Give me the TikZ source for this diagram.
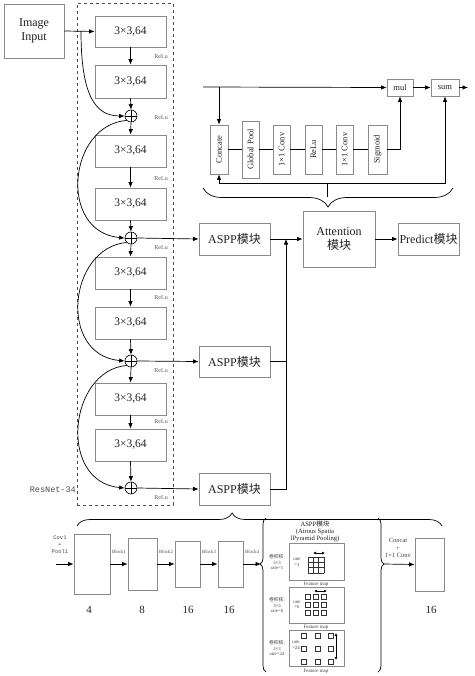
\documentclass[tikz,border=0pt]{standalone}
\usepackage{fontspec}
\usepackage{graphicx}
\setmainfont{Liberation Serif}
\newfontfamily\cjk{Noto Sans CJK SC}
\newfontfamily\monof{Liberation Mono}
\usetikzlibrary{arrows.meta,decorations.pathreplacing,calc}
\definecolor{boxc}{HTML}{8A8A8A}
\definecolor{txt}{HTML}{222222}
\newcommand{\fs}[1]{\fontsize{#1}{#1}\selectfont}
\newcommand{\fsb}[2]{\fontsize{#1}{#2}\selectfont}
\begin{document}
\begin{tikzpicture}[x=1pt,y=-1pt,
  box/.style={draw=boxc, line width=0.8pt, fill=white, inner sep=0pt, text=txt},
  conv/.style={box, minimum width=71pt, minimum height=32pt, font=\fs{11.5}},
  bigbox/.style={box, font=\fsb{12}{14.5}, align=center},
  addc/.style={draw=black, circle, minimum size=12pt, inner sep=0pt, line width=0.6pt, fill=white,
    path picture={\draw[black, line width=0.6pt] (path picture bounding box.north) -- (path picture bounding box.south)
      (path picture bounding box.west) -- (path picture bounding box.east);}},
  arr/.style={-{Latex[length=5.5pt,width=4.5pt]}, line width=0.7pt},
  ln/.style={line width=0.7pt},
  relu/.style={font=\fs{6}, text=black!65, anchor=east, inner sep=0pt},
  attb/.style={box, minimum width=17pt, minimum height=49pt, font=\fs{8.5}},
  small/.style={box, minimum width=26pt, minimum height=17pt, font=\fs{8.5}},
  blk/.style={box},
  tiny/.style={font=\fs{4.8}, text=black!70, inner sep=0pt, align=center},
  num/.style={font=\fs{11}, text=txt, inner sep=0pt},
  panel/.style={draw=boxc, line width=0.6pt},
  sq/.style={draw=black!80, line width=0.5pt},
  dbl/.style={{Latex[length=3pt,width=3pt]}-{Latex[length=3pt,width=3pt]}, line width=0.6pt},
  brc/.style={decorate, line width=0.7pt}
]
\useasboundingbox (0,0) rectangle (474,676);

% ---------- ResNet column ----------
\node[draw=black!70, dashed, line width=0.8pt, minimum width=96pt, minimum height=502pt, inner sep=0pt] (res) at (125,254) {};
\node[font=\monof\fs{8.5}, text=black!70, anchor=east, inner sep=0pt] (resl) at (76,490) {ResNet-34};

\node[bigbox, minimum width=60pt, minimum height=54pt] (img) at (34,31) {Image\\Input};

\node[conv, minimum height=31pt] (b1) at (130.5,31.5) {3×3,64};
\node[conv, minimum height=33pt] (b2) at (130.5,81.5) {3×3,64};
\node[addc] (c1) at (131,116) {};
\node[conv] (b3) at (130.5,151) {3×3,64};
\node[conv] (b4) at (130.5,204) {3×3,64};
\node[addc] (c2) at (131,238) {};
\node[conv] (b5) at (130.5,273) {3×3,64};
\node[conv] (b6) at (130.5,323) {3×3,64};
\node[addc] (c3) at (131,361) {};
\node[conv] (b7) at (130.5,399) {3×3,64};
\node[conv] (b8) at (130.5,445) {3×3,64};
\node[addc] (c4) at (131,488) {};

\foreach \y [count=\i] in {57,118,179,248,298,371,422,498}
  \node[relu] (r\i) at (168,\y) {ReLu};

\coordinate (j1) at (81,31);
\draw[arr] (img.east) -- (b1.west);
\draw[arr] (j1) .. controls (81,95) and (95,116) .. (c1.west);
\draw[arr] (b1.south) -- (b2.north);
\draw[arr] (b2.south) -- (c1.north);
\draw[arr] (c1.south) -- (b3.north);
\draw[arr] (b3.south) -- (b4.north);
\draw[arr] (b4.south) -- (c2.north);
\draw[arr] (c2.south) -- (b5.north);
\draw[arr] (b5.south) -- (b6.north);
\draw[arr] (b6.south) -- (c3.north);
\draw[arr] (c3.south) -- (b7.north);
\draw[arr] (b7.south) -- (b8.north);
\draw[arr] (b8.south) -- (c4.north);
\draw[arr] (c1.south west) .. controls (68,125) and (58,232) .. (c2.west);
\draw[arr] (c2.south west) .. controls (68,248) and (58,355) .. (c3.west);
\draw[arr] (c3.south west) .. controls (68,371) and (58,482) .. (c4.west);

% ---------- ASPP / attention / predict ----------
\node[bigbox, minimum width=71pt, minimum height=32pt] (a1) at (234.5,239) {ASPP{\cjk 模块}};
\node[bigbox, minimum width=71pt, minimum height=31pt] (a2) at (234.5,361.5) {ASPP{\cjk 模块}};
\node[bigbox, minimum width=71pt, minimum height=32pt] (a3) at (234.5,489) {ASPP{\cjk 模块}};
\node[bigbox, minimum width=72pt, minimum height=56pt] (att) at (339,239) {Attention\\{\cjk 模块}};
\node[bigbox, minimum width=61pt, minimum height=32pt] (pred) at (428.5,239) {Predict{\cjk 模块}};

\draw[arr] (c2.east) -- (a1.west);
\draw[arr] (c3.east) -- (a2.west);
\draw[arr] (c4.east) -- (a3.west);
\coordinate (m1) at (286,239);
\draw[arr] (a3.east) -| (m1);
\draw[ln] (a2.east) -- (a2.east -| m1);
\draw[arr] (a1.east) -- (att.west);
\draw[arr] (att.east) -- (pred.west);

% ---------- attention detail ----------
\coordinate (tin) at (203,87);
\coordinate (tout) at (468,87.5);
\node[small] (mul) at (400,87.5) {mul};
\node[small, minimum width=28pt] (sum) at (445,87.5) {sum};
\node[attb, minimum width=18pt] (cat) at (219,149.5) {\rotatebox{90}{Concate}};
\node[attb, minimum height=57pt] (gp) at (250.5,149.5) {\rotatebox{90}{Global Pool}};
\node[attb] (cv1) at (281.5,149.5) {\rotatebox{90}{1×1 Conv}};
\node[attb] (rl) at (313.5,149.5) {\rotatebox{90}{ReLu}};
\node[attb] (cv2) at (344.5,149.5) {\rotatebox{90}{1×1 Conv}};
\node[attb, minimum width=19pt] (sg) at (377.5,149.5) {\rotatebox{90}{Sigmoid}};

\draw[arr] (tin) -- (mul.west);
\draw[arr] (mul.east) -- (sum.west);
\draw[arr] (sum.east) -- (tout);
\draw[arr] (tin -| cat) -- (cat.north);
\draw[ln] (cat.east) -- (gp.west);
\draw[ln] (gp.east) -- (cv1.west);
\draw[ln] (cv1.east) -- (rl.west);
\draw[ln] (rl.east) -- (cv2.west);
\draw[ln] (cv2.east) -- (sg.west);
\draw[arr] (sg.east) -| (mul.south);
\coordinate (bj) at (327,183);
\coordinate (bt) at (327,197.5);
\draw[arr] (bj) -| (cat.south);
\draw[arr] (bj) -| (sum.south);
\draw[ln] (bj) -- (bt);
\draw[brc, decoration={brace, mirror, amplitude=19pt}] (203,188) -- (453,188);

% ---------- bottom pipeline ----------
\draw[brc, decoration={brace, amplitude=13pt, aspect=0.425}] (77,526) -- (442,526);

\node[font=\monof\fs{5.5}, text=black!70, align=center, inner sep=0pt] (cp) at (60,545) {Cov1\\[1.5pt]+\\[1.5pt]Pool1};
\coordinate (ain) at (56,564);
\node[blk, minimum width=36pt, minimum height=60pt] (k1) at (92,564) {};
\node[blk, minimum width=29pt, minimum height=52pt] (k2) at (142.5,564) {};
\node[blk, minimum width=25pt, minimum height=46pt] (k3) at (187.5,564) {};
\node[blk, minimum width=25pt, minimum height=46pt] (k4) at (230.5,564) {};
\coordinate (lt) at (261,564);

\draw[arr] (ain) -- (k1.west);
\draw[arr] (k1.east) -- (k2.west);
\draw[arr] (k2.east) -- (k3.west);
\draw[arr] (k3.east) -- (k4.west);
\draw[arr] (k4.east) -- (lt);
\node[tiny] (l1) at (119,552) {Block1};
\node[tiny] (l2) at (166,552) {Block2};
\node[tiny] (l3) at (209,552) {Block3};
\node[tiny] (l4) at (252,552) {Block4};

\node[num] (n1) at (89,610) {4};
\node[num] (n2) at (142,610) {8};
\node[num] (n3) at (188,610) {16};
\node[num] (n4) at (229,610) {16};

% ASPP module braces
\draw[brc, decoration={brace, amplitude=6pt, aspect=0.70}] (266,672) -- (266,518);
\draw[brc, decoration={brace, amplitude=6pt, aspect=0.30}] (378,518) -- (378,672);
\node[font=\fs{6.6}, text=txt, align=center, inner sep=0pt] (at) at (315,531.5) {ASPP{\cjk 模块}\\[0.5pt](Atrous Spatia\\[0.5pt]lPyramid Pooling)};

% panels
\draw[panel] (289,543) rectangle (344,580);
\draw[panel] (289,587) rectangle (344,623);
\draw[panel] (289,630) rectangle (344,666);
\foreach \y [count=\i] in {584,627,671}
  \node[font=\fs{5}, text=black!75, inner sep=0pt] (fm\i) at (316,\y) {Feature map};
\foreach \y/\r [count=\i] in {562/1,605/6,648/24}
  \node[font=\fs{4.8}, text=black!75, align=center, inner sep=0pt] (kl\i) at (277,\y) {{\cjk 卷积核}:\\[0.5pt]3×3\\[0.5pt]rate=\r};
\node[font=\fs{4.8}, text=black!75, align=center, inner sep=0pt] (ra1) at (297,562) {rate\\[0.5pt]=1};
\node[font=\fs{4.8}, text=black!75, align=center, inner sep=0pt] (ra2) at (297,605) {rate\\[0.5pt]=6};
\node[font=\fs{4.8}, text=black!75, align=center, inner sep=0pt] (ra3) at (296,645) {rate\\[0.5pt]=24};

% panel 1 grid
\foreach \k in {0,1,2,3} {
  \draw[sq] ({308+16/3*\k},557) -- ({308+16/3*\k},573);
  \draw[sq] (308,{557+16/3*\k}) -- (324,{557+16/3*\k});
}
\draw[dbl] (313,553) -- (325,553);
% panel 2 squares
\foreach \i in {0,1,2} \foreach \j in {0,1,2}
  \draw[sq] ({305+8*\i},{594+8*\j}) rectangle ++(5.5,5.5);
\draw[dbl] (314,591) -- (327,591);
% panel 3 squares
\foreach \xx in {301,315,328} \foreach \yy in {633,646,659}
  \draw[sq] (\xx,\yy) rectangle ++(5,5);
\draw[dbl] (336,633) -- (336,660);

% output
\node[font=\fs{6.5}, text=black!75, align=center, inner sep=0pt] (cc) at (398,548) {Concat\\[1pt]+\\[1pt]1×1 Conv};
\coordinate (rt) at (384,564);
\node[blk, minimum width=29pt, minimum height=53pt] (fb) at (429.5,564.5) {};
\draw[arr] (rt) -- (fb.west);
\node[num] (n5) at (431,610) {16};
\end{tikzpicture}
\end{document}
